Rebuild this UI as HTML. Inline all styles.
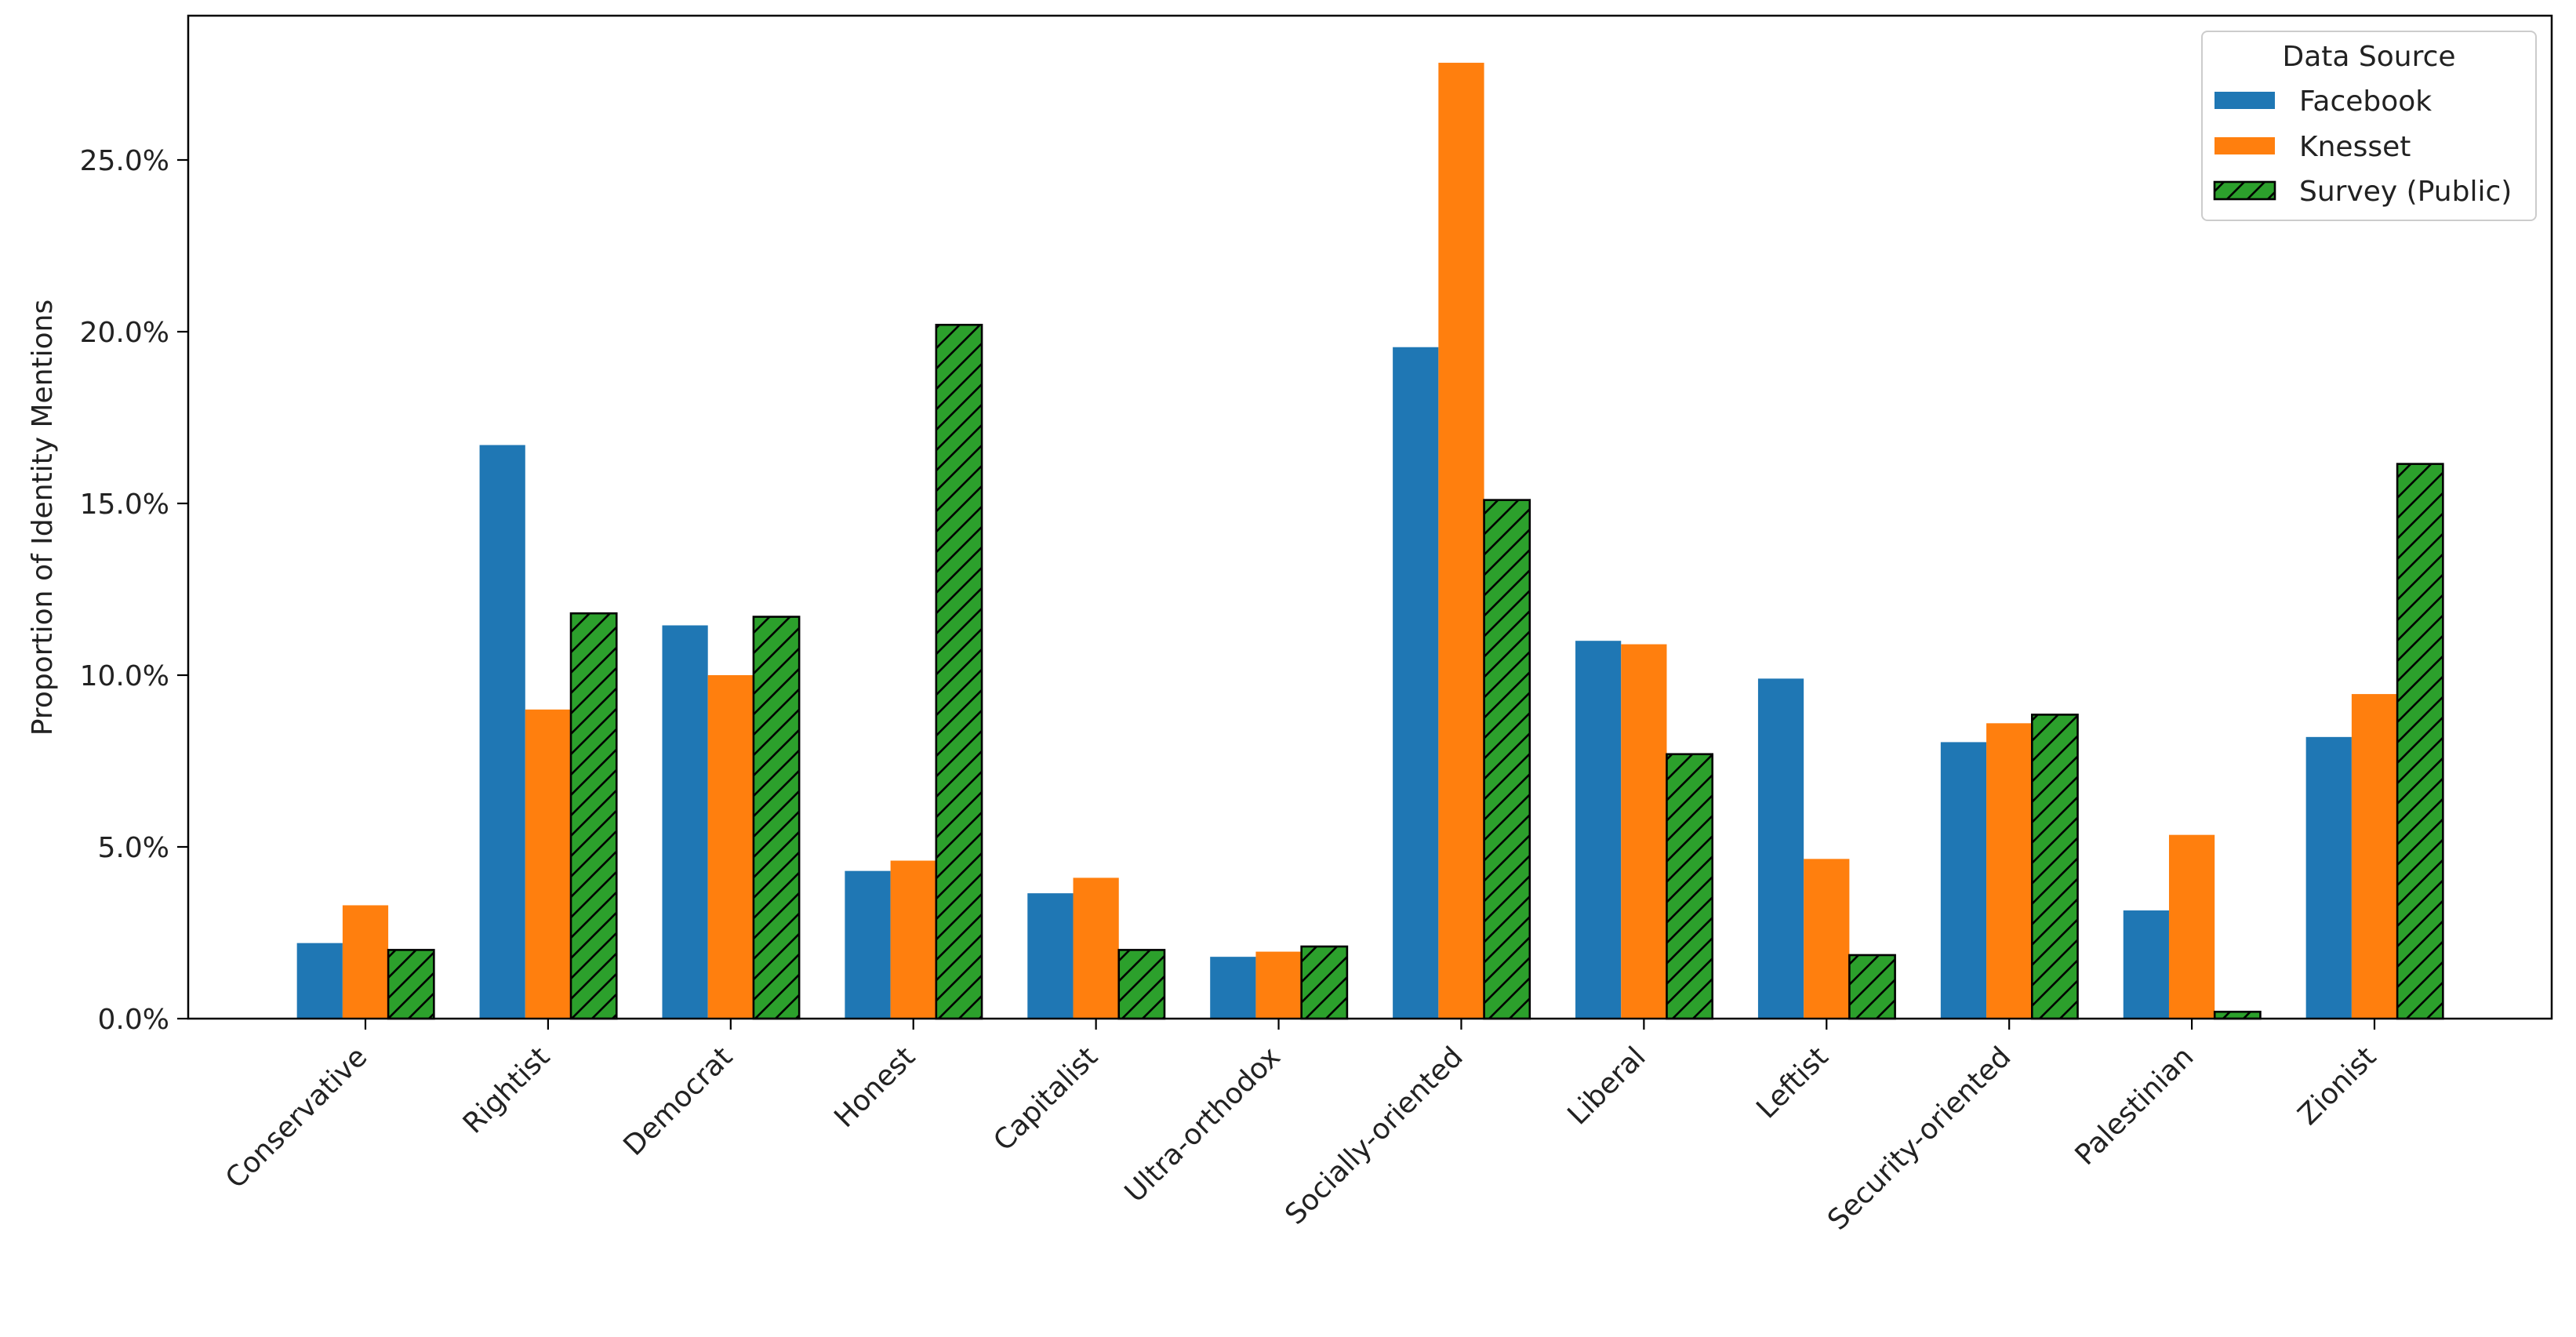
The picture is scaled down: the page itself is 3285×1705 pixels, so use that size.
<!DOCTYPE html>
<html><head><meta charset="utf-8"><style>
html,body{margin:0;padding:0;background:#fff;}
svg{display:block;font-family:"DejaVu Sans","Liberation Sans",sans-serif;}
</style></head><body>
<svg id="chart" width="3285" height="1705" viewBox="0 0 3285 1705" xmlns="http://www.w3.org/2000/svg">
<defs>
<pattern id="hatch" patternUnits="userSpaceOnUse" width="26" height="26">
<rect width="26" height="26" fill="#2ca02c"/>
<path d="M-6.5,6.5 L6.5,-6.5 M0,26 L26,0 M19.5,32.5 L32.5,19.5" stroke="#000" stroke-width="2.6"/>
</pattern>
</defs>
<g id="plot"></g>
</svg>
<script>
const categories = ["Conservative","Rightist","Democrat","Honest","Capitalist","Ultra-orthodox","Socially-oriented","Liberal","Leftist","Security-oriented","Palestinian","Zionist"];
const facebook = [2.2,16.7,11.45,4.3,3.65,1.8,19.55,11.0,9.9,8.05,3.15,8.2];
const knesset = [3.3,9.0,10.0,4.6,4.1,1.95,27.83,10.9,4.65,8.6,5.35,9.45];
const survey = [2.0,11.8,11.7,20.2,2.0,2.1,15.1,7.7,1.85,8.85,0.2,16.15];
const yTicks = [0,5,10,15,20,25];
const seriesNames = ["Facebook","Knesset","Survey (Public)"];

const NS = "http://www.w3.org/2000/svg";
const g = document.getElementById('plot');
const L = 240, R = 3254, T = 20, B = 1299;
const x0 = 466, step = (3028 - 466) / 11, bw = step * 0.25;
const yMax = (B - T) / ((B - 204) / 25);
function xScale(i){ return x0 + i * step; }
function yScale(v){ return B - v / yMax * (B - T); }
function mk(tag, attrs){ const e = document.createElementNS(NS, tag); for (const k in attrs) e.setAttribute(k, attrs[k]); g.appendChild(e); return e; }

const series = [
  {vals: facebook, fill: "#1f77b4", stroke: "none", off: -1, key: "facebook"},
  {vals: knesset, fill: "#ff7f0e", stroke: "none", off: 0, key: "knesset"},
  {vals: survey, fill: "url(#hatch)", stroke: "#000", off: 1, key: "survey"}
];
series.forEach(s => {
  s.vals.forEach((v, i) => {
    const cx = xScale(i) + s.off * bw;
    const r = mk('rect', {x: cx - bw/2, y: yScale(v), width: bw, height: B - yScale(v), fill: s.fill});
    if (s.stroke !== "none") { r.setAttribute('stroke', '#000'); r.setAttribute('stroke-width', '2.6'); }
    
    
  });
});

// axes frame
const frame = mk('rect', {x: L, y: T, width: R - L, height: B - T, fill: "none", stroke: "#000", "stroke-width": 2.5});



yTicks.forEach(t => {
  const y = yScale(t);
  const tk = mk('line', {x1: L - 14, x2: L, y1: y, y2: y, stroke: "#000", "stroke-width": 2.2});
  
  
  const tx = mk('text', {x: L - 24, y: y + 13, "text-anchor": "end", "font-size": 36, fill: "#222"});
  tx.textContent = t.toFixed(1) + "%";
  
  
});

categories.forEach((c, i) => {
  const x = xScale(i);
  const tk = mk('line', {x1: x, x2: x, y1: B, y2: B + 14, stroke: "#000", "stroke-width": 2.2});
  
  
  const ax = x + 4, ay = 1350;
  const tx = mk('text', {x: ax, y: ay, "text-anchor": "end", "font-size": 36, fill: "#222", transform: `rotate(-45 ${ax} ${ay})`});
  tx.textContent = c;
  
  
});

const yl = mk('text', {x: 0, y: 0, "text-anchor": "middle", "font-size": 36, fill: "#222", transform: "translate(66 660) rotate(-90)"});
yl.textContent = "Proportion of Identity Mentions";



// legend
const lg = mk('rect', {x: 2808, y: 40, width: 426, height: 241, rx: 7, fill: "#fff", "fill-opacity": 0.8, stroke: "#ccc", "stroke-width": 2});


const lt = mk('text', {x: 3021, y: 84, "text-anchor": "middle", "font-size": 36, fill: "#222"});
lt.textContent = "Data Source";


const rowsY = [128, 186, 243];
const fills = ["#1f77b4", "#ff7f0e", "url(#hatch)"];
seriesNames.forEach((n, i) => {
  const h = mk('rect', {x: 2824, y: rowsY[i] - 11, width: 77, height: 22, fill: fills[i]});
  if (i === 2) { h.setAttribute('stroke', '#000'); h.setAttribute('stroke-width', '2.6'); }
  
  
  const t = mk('text', {x: 2932, y: rowsY[i] + 13, "font-size": 36, fill: "#222"});
  t.textContent = n;
  
  
});
</script>
</body></html>
